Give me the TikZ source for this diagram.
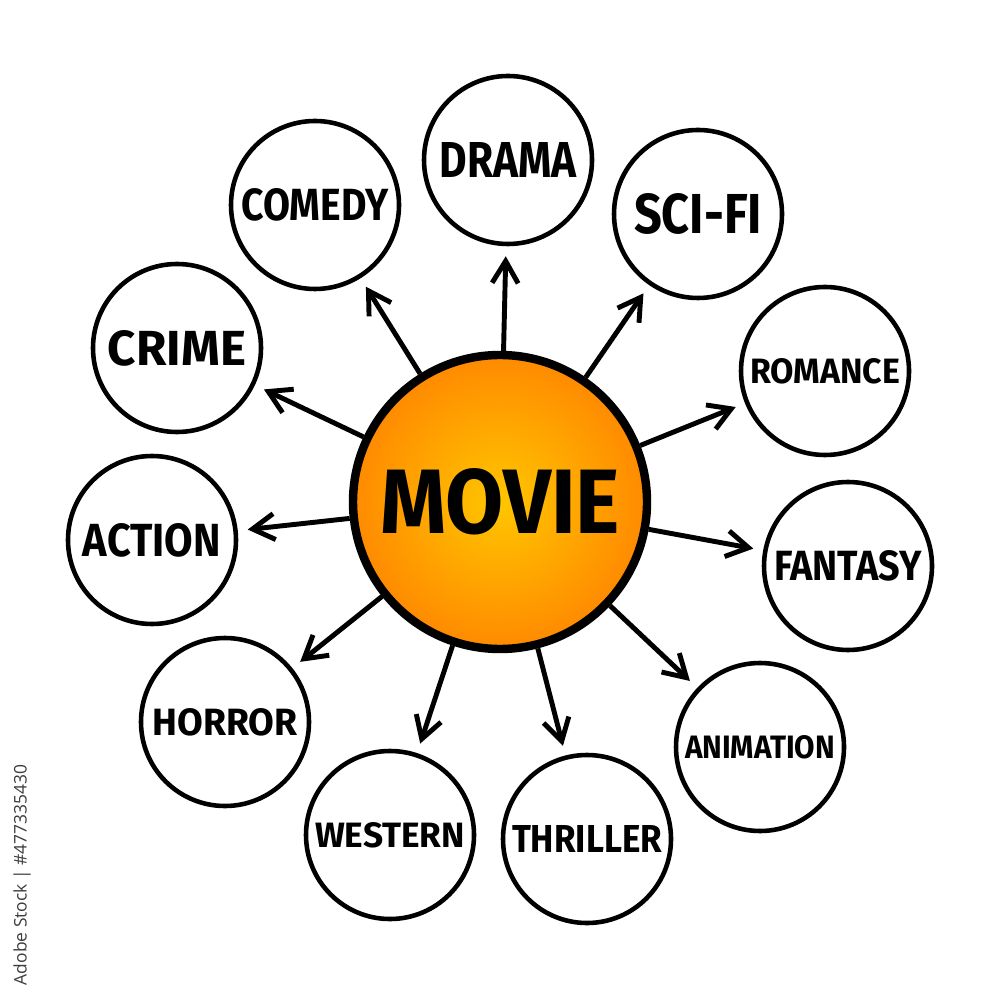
\documentclass[tikz,border=0pt]{standalone}
\usepackage{fontspec}
\setmainfont{Fira Sans}
\newfontfamily\stockfont{Open Sans}
\usetikzlibrary{arrows.meta,shadings}
\definecolor{movieorange}{HTML}{FF8A00}
\definecolor{movieyellow}{HTML}{FFC600}
\definecolor{stockgray}{HTML}{3C3C3C}
\newcommand{\genretext}[3]{\resizebox{#2}{#3}{\bfseries #1}}

\begin{document}
\begin{tikzpicture}[
  genre/.style={draw, circle, line width=1.3pt, minimum size=1.68cm, inner sep=0pt},
  hub/.style={draw, circle, line width=2.4pt, minimum size=2.94cm, inner sep=0pt,
    inner color=movieyellow, outer color=movieorange},
  link/.style={line width=1.4pt, -{Straight Barb[length=2.2mm,width=2.6mm]}, shorten >=0.1cm}
]
\useasboundingbox (0,0) rectangle (10,-10);

\node[hub] (movie) at (5.00,-5.02) {\genretext{MOVIE}{2.40cm}{0.65cm}};

\node[genre] (drama) at (5.08,-1.60) {\genretext{DRAMA}{1.37cm}{0.35cm}};
\node[genre] (scifi) at (6.98,-2.14) {\genretext{SCI-FI}{1.28cm}{0.40cm}};
\node[genre] (romance) at (8.25,-3.71) {\genretext{ROMANCE}{1.50cm}{0.25cm}};
\node[genre] (fantasy) at (8.48,-5.66) {\genretext{FANTASY}{1.48cm}{0.30cm}};
\node[genre] (animation) at (7.60,-7.47) {\genretext{ANIMATION}{1.50cm}{0.23cm}};
\node[genre] (thriller) at (5.87,-8.39) {\genretext{THRILLER}{1.50cm}{0.27cm}};
\node[genre] (western) at (3.90,-8.35) {\genretext{WESTERN}{1.50cm}{0.25cm}};
\node[genre] (horror) at (2.25,-7.22) {\genretext{HORROR}{1.45cm}{0.27cm}};
\node[genre] (action) at (1.52,-5.40) {\genretext{ACTION}{1.38cm}{0.33cm}};
\node[genre] (crime) at (1.77,-3.48) {\genretext{CRIME}{1.38cm}{0.35cm}};
\node[genre] (comedy) at (3.15,-2.05) {\genretext{COMEDY}{1.47cm}{0.32cm}};

\foreach \g in {drama,scifi,romance,fantasy,animation,thriller,western,horror,action,crime,comedy}
  \draw[link] (movie) -- (\g);

\node[rotate=90, text=stockgray, inner sep=0pt] (stock) at (0.22,-8.75)
  {\resizebox{2.2cm}{!}{\stockfont Adobe Stock | \#477335430}};
\end{tikzpicture}
\end{document}
